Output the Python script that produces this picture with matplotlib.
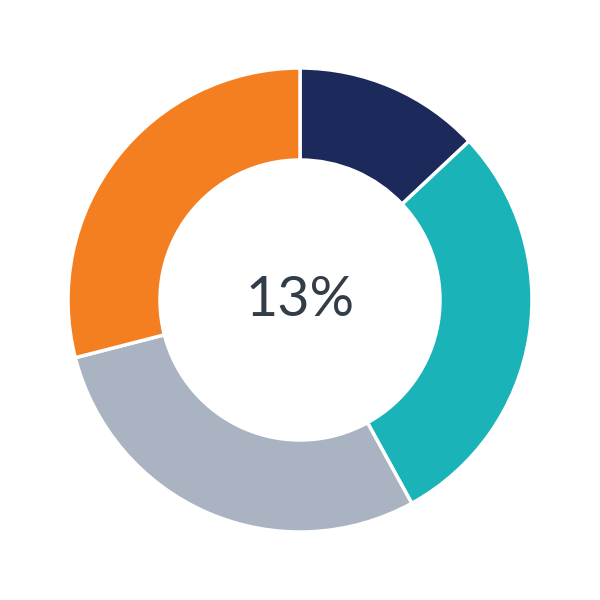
import matplotlib.pyplot as plt

labels = ['A', 'B', 'C', 'D']
values = [13, 29, 29, 29]
colors = ['#1b2a5a', '#1ab3b8', '#a9b3c1', '#f47f20']
center_text = '13%'

fig = plt.figure(figsize=(6, 6), dpi=100)
ax = fig.add_axes([0, 0, 1, 1])

outer = 2.32
ax.pie(values, colors=colors, radius=outer, startangle=90, counterclock=False,
       wedgeprops=dict(width=outer - 1.40, edgecolor='white', linewidth=2.5))
ax.text(0, 0, center_text, ha='center', va='center', fontsize=40,
        family='Lato', color='#333d47')

ax.set_xlim(-3, 3)
ax.set_ylim(-3, 3)
ax.set_aspect('equal')
ax.axis('off')

fig.savefig('out.png', dpi=100, facecolor='white')
